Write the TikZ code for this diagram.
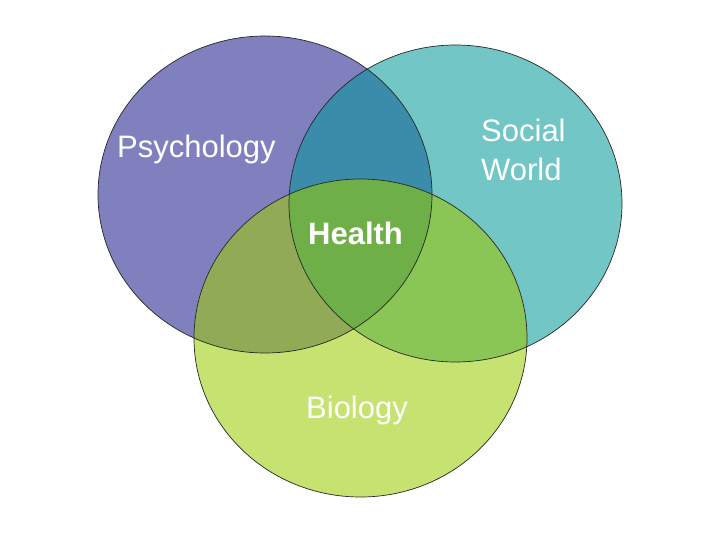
\documentclass[tikz,border=0pt]{standalone}
\usepackage{fontspec}
\setmainfont{Liberation Sans}
\definecolor{psycol}{HTML}{8080BE}
\definecolor{soccol}{HTML}{72C6C6}
\definecolor{biocol}{HTML}{C6E270}
\definecolor{pscol}{HTML}{3A8CAA}
\definecolor{pbcol}{HTML}{91AA55}
\definecolor{sbcol}{HTML}{8AC655}
\definecolor{allcol}{HTML}{6EAF48}

\begin{document}
\begin{tikzpicture}
[x=1pt, y=-1pt, every node/.style={inner sep=0pt, anchor=base west, text=white, font=\fontsize{31}{38}\selectfont}]
\useasboundingbox (0,0) rectangle (720,540);
\def\psy{(265,194.5) ellipse [x radius=167pt, y radius=158.5pt]}
\def\soc{(455.5,203.5) ellipse [x radius=166.5pt, y radius=158.5pt]}
\def\bio{(360.5,338) ellipse [x radius=166.5pt, y radius=159pt]}
\fill [psycol] \psy;
\fill [soccol] \soc;
\fill [biocol] \bio;
\begin{scope} \clip \psy; \fill [pscol] \soc; \end{scope}
\begin{scope} \clip \psy; \fill [pbcol] \bio; \end{scope}
\begin{scope} \clip \soc; \fill [sbcol] \bio; \end{scope}
\begin{scope} \clip \psy; \clip \soc; \fill [allcol] \bio; \end{scope}
\draw [line width=0.7pt, black!85] \psy;
\draw [line width=0.7pt, black!85] \soc;
\draw [line width=0.7pt, black!85] \bio;
\node (psychology) at (117, 158) {Psychology};
\node (social) at (481, 142) {Social};
\node (world) at (481, 181) {World};
\node (health) [font=\fontsize{31}{38}\selectfont\bfseries] at (308, 244) {Health};
\node (biology) at (306, 418) {Biology};
\end{tikzpicture}
\end{document}
